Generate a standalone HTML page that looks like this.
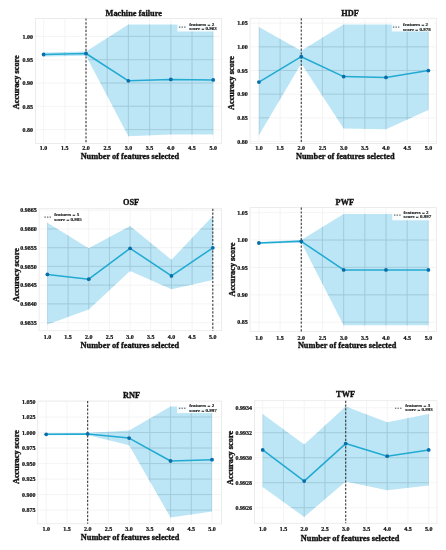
<!DOCTYPE html><html><head><meta charset="utf-8"><style>html,body{margin:0;padding:0;background:#fff;width:446px;height:550px;overflow:hidden}svg{display:block;filter:blur(0.3px)}text{font-family:"Liberation Serif","Times New Roman",serif;font-weight:bold}</style></head><body>
<svg width="446" height="550" viewBox="0 0 446 550">
<rect width="446" height="550" fill="#fff"/>
<g>
<rect x="35.40" y="18.40" width="186.00" height="125.10" fill="#fff" stroke="#e8e8e8" stroke-width="0.8"/>
<line x1="43.60" y1="18.40" x2="43.60" y2="143.50" stroke="#f1f1f1" stroke-width="0.8"/>
<line x1="64.80" y1="18.40" x2="64.80" y2="143.50" stroke="#f1f1f1" stroke-width="0.8"/>
<line x1="86.00" y1="18.40" x2="86.00" y2="143.50" stroke="#f1f1f1" stroke-width="0.8"/>
<line x1="107.20" y1="18.40" x2="107.20" y2="143.50" stroke="#f1f1f1" stroke-width="0.8"/>
<line x1="128.40" y1="18.40" x2="128.40" y2="143.50" stroke="#f1f1f1" stroke-width="0.8"/>
<line x1="149.60" y1="18.40" x2="149.60" y2="143.50" stroke="#f1f1f1" stroke-width="0.8"/>
<line x1="170.80" y1="18.40" x2="170.80" y2="143.50" stroke="#f1f1f1" stroke-width="0.8"/>
<line x1="192.00" y1="18.40" x2="192.00" y2="143.50" stroke="#f1f1f1" stroke-width="0.8"/>
<line x1="213.20" y1="18.40" x2="213.20" y2="143.50" stroke="#f1f1f1" stroke-width="0.8"/>
<line x1="35.40" y1="129.60" x2="221.40" y2="129.60" stroke="#f1f1f1" stroke-width="0.8"/>
<line x1="35.40" y1="106.30" x2="221.40" y2="106.30" stroke="#f1f1f1" stroke-width="0.8"/>
<line x1="35.40" y1="83.00" x2="221.40" y2="83.00" stroke="#f1f1f1" stroke-width="0.8"/>
<line x1="35.40" y1="59.70" x2="221.40" y2="59.70" stroke="#f1f1f1" stroke-width="0.8"/>
<line x1="35.40" y1="36.40" x2="221.40" y2="36.40" stroke="#f1f1f1" stroke-width="0.8"/>
<polygon points="43.60,52.60 86.00,51.40 128.40,24.40 170.80,24.40 213.20,24.40 213.20,134.40 170.80,134.40 128.40,136.20 86.00,55.80 43.60,56.40" fill="rgb(32,172,222)" fill-opacity="0.3"/>
<clipPath id="c0"><polygon points="43.60,52.60 86.00,51.40 128.40,24.40 170.80,24.40 213.20,24.40 213.20,134.40 170.80,134.40 128.40,136.20 86.00,55.80 43.60,56.40"/></clipPath><g clip-path="url(#c0)">
<line x1="43.60" y1="18.40" x2="43.60" y2="143.50" stroke="rgb(158,200,216)" stroke-width="0.8"/>
<line x1="64.80" y1="18.40" x2="64.80" y2="143.50" stroke="rgb(158,200,216)" stroke-width="0.8"/>
<line x1="86.00" y1="18.40" x2="86.00" y2="143.50" stroke="rgb(158,200,216)" stroke-width="0.8"/>
<line x1="107.20" y1="18.40" x2="107.20" y2="143.50" stroke="rgb(158,200,216)" stroke-width="0.8"/>
<line x1="128.40" y1="18.40" x2="128.40" y2="143.50" stroke="rgb(158,200,216)" stroke-width="0.8"/>
<line x1="149.60" y1="18.40" x2="149.60" y2="143.50" stroke="rgb(158,200,216)" stroke-width="0.8"/>
<line x1="170.80" y1="18.40" x2="170.80" y2="143.50" stroke="rgb(158,200,216)" stroke-width="0.8"/>
<line x1="192.00" y1="18.40" x2="192.00" y2="143.50" stroke="rgb(158,200,216)" stroke-width="0.8"/>
<line x1="213.20" y1="18.40" x2="213.20" y2="143.50" stroke="rgb(158,200,216)" stroke-width="0.8"/>
<line x1="35.40" y1="129.60" x2="221.40" y2="129.60" stroke="rgb(158,200,216)" stroke-width="0.8"/>
<line x1="35.40" y1="106.30" x2="221.40" y2="106.30" stroke="rgb(158,200,216)" stroke-width="0.8"/>
<line x1="35.40" y1="83.00" x2="221.40" y2="83.00" stroke="rgb(158,200,216)" stroke-width="0.8"/>
<line x1="35.40" y1="59.70" x2="221.40" y2="59.70" stroke="rgb(158,200,216)" stroke-width="0.8"/>
<line x1="35.40" y1="36.40" x2="221.40" y2="36.40" stroke="rgb(158,200,216)" stroke-width="0.8"/>
</g>
<line x1="86.00" y1="18.40" x2="86.00" y2="143.50" stroke="#3a3a3a" stroke-width="1.1" stroke-dasharray="2.2 1.6"/>
<polyline points="43.60,54.50 86.00,53.50 128.40,80.80 170.80,79.40 213.20,79.90" fill="none" stroke="rgb(34,170,210)" stroke-width="1.55" stroke-linejoin="round"/>
<circle cx="43.60" cy="54.50" r="1.9" fill="rgb(8,110,170)"/>
<circle cx="86.00" cy="53.50" r="1.9" fill="rgb(8,110,170)"/>
<circle cx="128.40" cy="80.80" r="1.9" fill="rgb(8,110,170)"/>
<circle cx="170.80" cy="79.40" r="1.9" fill="rgb(8,110,170)"/>
<circle cx="213.20" cy="79.90" r="1.9" fill="rgb(8,110,170)"/>
<rect x="177.40" y="20.00" width="42.10" height="11.50" fill="#fff" fill-opacity="0.9"/>
<line x1="178.90" y1="27.10" x2="185.90" y2="27.10" stroke="#333" stroke-width="0.9" stroke-dasharray="1.4 1.2"/>
<text stroke="#111" x="189.20" y="25.50" font-size="5.0" stroke-width="0.14" fill="#161616">features = 2</text>
<text stroke="#111" x="189.20" y="30.40" font-size="5.0" stroke-width="0.14" fill="#161616">score = 0.963</text>
<text stroke="#111" stroke-width="0.22" fill="#111" x="33.10" y="131.83" font-size="6.0" text-anchor="end">0.80</text>
<text stroke="#111" stroke-width="0.22" fill="#111" x="33.10" y="108.53" font-size="6.0" text-anchor="end">0.85</text>
<text stroke="#111" stroke-width="0.22" fill="#111" x="33.10" y="85.23" font-size="6.0" text-anchor="end">0.90</text>
<text stroke="#111" stroke-width="0.22" fill="#111" x="33.10" y="61.93" font-size="6.0" text-anchor="end">0.95</text>
<text stroke="#111" stroke-width="0.22" fill="#111" x="33.10" y="38.63" font-size="6.0" text-anchor="end">1.00</text>
<text stroke="#111" stroke-width="0.22" fill="#111" x="43.60" y="150.23" font-size="6.0" text-anchor="middle">1.0</text>
<text stroke="#111" stroke-width="0.22" fill="#111" x="64.80" y="150.23" font-size="6.0" text-anchor="middle">1.5</text>
<text stroke="#111" stroke-width="0.22" fill="#111" x="86.00" y="150.23" font-size="6.0" text-anchor="middle">2.0</text>
<text stroke="#111" stroke-width="0.22" fill="#111" x="107.20" y="150.23" font-size="6.0" text-anchor="middle">2.5</text>
<text stroke="#111" stroke-width="0.22" fill="#111" x="128.40" y="150.23" font-size="6.0" text-anchor="middle">3.0</text>
<text stroke="#111" stroke-width="0.22" fill="#111" x="149.60" y="150.23" font-size="6.0" text-anchor="middle">3.5</text>
<text stroke="#111" stroke-width="0.22" fill="#111" x="170.80" y="150.23" font-size="6.0" text-anchor="middle">4.0</text>
<text stroke="#111" stroke-width="0.22" fill="#111" x="192.00" y="150.23" font-size="6.0" text-anchor="middle">4.5</text>
<text stroke="#111" stroke-width="0.22" fill="#111" x="213.20" y="150.23" font-size="6.0" text-anchor="middle">5.0</text>
<text stroke="#111" fill="#111" x="133.75" y="16.10" font-size="8.3" stroke-width="0.35" text-anchor="middle">Machine failure</text>
<text stroke="#111" fill="#111" x="129.90" y="159.00" font-size="8.3" stroke-width="0.35" text-anchor="middle">Number of features selected</text>
<text stroke="#111" fill="#111" transform="translate(18.70,82.20) rotate(-90)" font-size="8.3" stroke-width="0.35" text-anchor="middle">Accuracy score</text>
</g>
<g>
<rect x="250.10" y="18.20" width="186.40" height="125.30" fill="#fff" stroke="#e8e8e8" stroke-width="0.8"/>
<line x1="258.90" y1="18.20" x2="258.90" y2="143.50" stroke="#f1f1f1" stroke-width="0.8"/>
<line x1="280.08" y1="18.20" x2="280.08" y2="143.50" stroke="#f1f1f1" stroke-width="0.8"/>
<line x1="301.27" y1="18.20" x2="301.27" y2="143.50" stroke="#f1f1f1" stroke-width="0.8"/>
<line x1="322.45" y1="18.20" x2="322.45" y2="143.50" stroke="#f1f1f1" stroke-width="0.8"/>
<line x1="343.64" y1="18.20" x2="343.64" y2="143.50" stroke="#f1f1f1" stroke-width="0.8"/>
<line x1="364.82" y1="18.20" x2="364.82" y2="143.50" stroke="#f1f1f1" stroke-width="0.8"/>
<line x1="386.01" y1="18.20" x2="386.01" y2="143.50" stroke="#f1f1f1" stroke-width="0.8"/>
<line x1="407.19" y1="18.20" x2="407.19" y2="143.50" stroke="#f1f1f1" stroke-width="0.8"/>
<line x1="428.38" y1="18.20" x2="428.38" y2="143.50" stroke="#f1f1f1" stroke-width="0.8"/>
<line x1="250.10" y1="141.50" x2="436.50" y2="141.50" stroke="#f1f1f1" stroke-width="0.8"/>
<line x1="250.10" y1="117.83" x2="436.50" y2="117.83" stroke="#f1f1f1" stroke-width="0.8"/>
<line x1="250.10" y1="94.15" x2="436.50" y2="94.15" stroke="#f1f1f1" stroke-width="0.8"/>
<line x1="250.10" y1="70.48" x2="436.50" y2="70.48" stroke="#f1f1f1" stroke-width="0.8"/>
<line x1="250.10" y1="46.80" x2="436.50" y2="46.80" stroke="#f1f1f1" stroke-width="0.8"/>
<line x1="250.10" y1="23.12" x2="436.50" y2="23.12" stroke="#f1f1f1" stroke-width="0.8"/>
<polygon points="258.90,27.10 301.27,50.70 343.64,24.40 386.01,24.40 428.38,24.40 428.38,110.10 386.01,129.20 343.64,128.40 301.27,63.60 258.90,135.20" fill="rgb(32,172,222)" fill-opacity="0.3"/>
<clipPath id="c1"><polygon points="258.90,27.10 301.27,50.70 343.64,24.40 386.01,24.40 428.38,24.40 428.38,110.10 386.01,129.20 343.64,128.40 301.27,63.60 258.90,135.20"/></clipPath><g clip-path="url(#c1)">
<line x1="258.90" y1="18.20" x2="258.90" y2="143.50" stroke="rgb(158,200,216)" stroke-width="0.8"/>
<line x1="280.08" y1="18.20" x2="280.08" y2="143.50" stroke="rgb(158,200,216)" stroke-width="0.8"/>
<line x1="301.27" y1="18.20" x2="301.27" y2="143.50" stroke="rgb(158,200,216)" stroke-width="0.8"/>
<line x1="322.45" y1="18.20" x2="322.45" y2="143.50" stroke="rgb(158,200,216)" stroke-width="0.8"/>
<line x1="343.64" y1="18.20" x2="343.64" y2="143.50" stroke="rgb(158,200,216)" stroke-width="0.8"/>
<line x1="364.82" y1="18.20" x2="364.82" y2="143.50" stroke="rgb(158,200,216)" stroke-width="0.8"/>
<line x1="386.01" y1="18.20" x2="386.01" y2="143.50" stroke="rgb(158,200,216)" stroke-width="0.8"/>
<line x1="407.19" y1="18.20" x2="407.19" y2="143.50" stroke="rgb(158,200,216)" stroke-width="0.8"/>
<line x1="428.38" y1="18.20" x2="428.38" y2="143.50" stroke="rgb(158,200,216)" stroke-width="0.8"/>
<line x1="250.10" y1="141.50" x2="436.50" y2="141.50" stroke="rgb(158,200,216)" stroke-width="0.8"/>
<line x1="250.10" y1="117.83" x2="436.50" y2="117.83" stroke="rgb(158,200,216)" stroke-width="0.8"/>
<line x1="250.10" y1="94.15" x2="436.50" y2="94.15" stroke="rgb(158,200,216)" stroke-width="0.8"/>
<line x1="250.10" y1="70.48" x2="436.50" y2="70.48" stroke="rgb(158,200,216)" stroke-width="0.8"/>
<line x1="250.10" y1="46.80" x2="436.50" y2="46.80" stroke="rgb(158,200,216)" stroke-width="0.8"/>
<line x1="250.10" y1="23.12" x2="436.50" y2="23.12" stroke="rgb(158,200,216)" stroke-width="0.8"/>
</g>
<line x1="301.27" y1="18.20" x2="301.27" y2="143.50" stroke="#3a3a3a" stroke-width="1.1" stroke-dasharray="2.2 1.6"/>
<polyline points="258.90,82.10 301.27,56.70 343.64,76.60 386.01,77.40 428.38,70.60" fill="none" stroke="rgb(34,170,210)" stroke-width="1.55" stroke-linejoin="round"/>
<circle cx="258.90" cy="82.10" r="1.9" fill="rgb(8,110,170)"/>
<circle cx="301.27" cy="56.70" r="1.9" fill="rgb(8,110,170)"/>
<circle cx="343.64" cy="76.60" r="1.9" fill="rgb(8,110,170)"/>
<circle cx="386.01" cy="77.40" r="1.9" fill="rgb(8,110,170)"/>
<circle cx="428.38" cy="70.60" r="1.9" fill="rgb(8,110,170)"/>
<rect x="391.80" y="20.50" width="42.20" height="11.00" fill="#fff" fill-opacity="0.9"/>
<line x1="392.90" y1="27.10" x2="399.30" y2="27.10" stroke="#333" stroke-width="0.9" stroke-dasharray="1.4 1.2"/>
<text stroke="#111" x="403.10" y="25.50" font-size="5.0" stroke-width="0.14" fill="#161616">features = 2</text>
<text stroke="#111" x="403.10" y="30.60" font-size="5.0" stroke-width="0.14" fill="#161616">score = 0.978</text>
<text stroke="#111" stroke-width="0.22" fill="#111" x="247.80" y="143.73" font-size="6.0" text-anchor="end">0.80</text>
<text stroke="#111" stroke-width="0.22" fill="#111" x="247.80" y="120.05" font-size="6.0" text-anchor="end">0.85</text>
<text stroke="#111" stroke-width="0.22" fill="#111" x="247.80" y="96.38" font-size="6.0" text-anchor="end">0.90</text>
<text stroke="#111" stroke-width="0.22" fill="#111" x="247.80" y="72.70" font-size="6.0" text-anchor="end">0.95</text>
<text stroke="#111" stroke-width="0.22" fill="#111" x="247.80" y="49.03" font-size="6.0" text-anchor="end">1.00</text>
<text stroke="#111" stroke-width="0.22" fill="#111" x="247.80" y="25.35" font-size="6.0" text-anchor="end">1.05</text>
<text stroke="#111" stroke-width="0.22" fill="#111" x="258.90" y="150.23" font-size="6.0" text-anchor="middle">1.0</text>
<text stroke="#111" stroke-width="0.22" fill="#111" x="280.08" y="150.23" font-size="6.0" text-anchor="middle">1.5</text>
<text stroke="#111" stroke-width="0.22" fill="#111" x="301.27" y="150.23" font-size="6.0" text-anchor="middle">2.0</text>
<text stroke="#111" stroke-width="0.22" fill="#111" x="322.45" y="150.23" font-size="6.0" text-anchor="middle">2.5</text>
<text stroke="#111" stroke-width="0.22" fill="#111" x="343.64" y="150.23" font-size="6.0" text-anchor="middle">3.0</text>
<text stroke="#111" stroke-width="0.22" fill="#111" x="364.82" y="150.23" font-size="6.0" text-anchor="middle">3.5</text>
<text stroke="#111" stroke-width="0.22" fill="#111" x="386.01" y="150.23" font-size="6.0" text-anchor="middle">4.0</text>
<text stroke="#111" stroke-width="0.22" fill="#111" x="407.19" y="150.23" font-size="6.0" text-anchor="middle">4.5</text>
<text stroke="#111" stroke-width="0.22" fill="#111" x="428.38" y="150.23" font-size="6.0" text-anchor="middle">5.0</text>
<text stroke="#111" fill="#111" x="349.95" y="15.60" font-size="8.3" stroke-width="0.35" text-anchor="middle">HDF</text>
<text stroke="#111" fill="#111" x="345.30" y="159.20" font-size="8.3" stroke-width="0.35" text-anchor="middle">Number of features selected</text>
<text stroke="#111" fill="#111" transform="translate(234.10,83.00) rotate(-90)" font-size="8.3" stroke-width="0.35" text-anchor="middle">Accuracy score</text>
</g>
<g>
<rect x="39.10" y="208.70" width="182.50" height="122.00" fill="#fff" stroke="#e8e8e8" stroke-width="0.8"/>
<line x1="47.40" y1="208.70" x2="47.40" y2="330.70" stroke="#f1f1f1" stroke-width="0.8"/>
<line x1="68.08" y1="208.70" x2="68.08" y2="330.70" stroke="#f1f1f1" stroke-width="0.8"/>
<line x1="88.75" y1="208.70" x2="88.75" y2="330.70" stroke="#f1f1f1" stroke-width="0.8"/>
<line x1="109.43" y1="208.70" x2="109.43" y2="330.70" stroke="#f1f1f1" stroke-width="0.8"/>
<line x1="130.10" y1="208.70" x2="130.10" y2="330.70" stroke="#f1f1f1" stroke-width="0.8"/>
<line x1="150.78" y1="208.70" x2="150.78" y2="330.70" stroke="#f1f1f1" stroke-width="0.8"/>
<line x1="171.45" y1="208.70" x2="171.45" y2="330.70" stroke="#f1f1f1" stroke-width="0.8"/>
<line x1="192.12" y1="208.70" x2="192.12" y2="330.70" stroke="#f1f1f1" stroke-width="0.8"/>
<line x1="212.80" y1="208.70" x2="212.80" y2="330.70" stroke="#f1f1f1" stroke-width="0.8"/>
<line x1="39.10" y1="322.60" x2="221.60" y2="322.60" stroke="#f1f1f1" stroke-width="0.8"/>
<line x1="39.10" y1="303.87" x2="221.60" y2="303.87" stroke="#f1f1f1" stroke-width="0.8"/>
<line x1="39.10" y1="285.13" x2="221.60" y2="285.13" stroke="#f1f1f1" stroke-width="0.8"/>
<line x1="39.10" y1="266.40" x2="221.60" y2="266.40" stroke="#f1f1f1" stroke-width="0.8"/>
<line x1="39.10" y1="247.67" x2="221.60" y2="247.67" stroke="#f1f1f1" stroke-width="0.8"/>
<line x1="39.10" y1="228.93" x2="221.60" y2="228.93" stroke="#f1f1f1" stroke-width="0.8"/>
<line x1="39.10" y1="210.20" x2="221.60" y2="210.20" stroke="#f1f1f1" stroke-width="0.8"/>
<polygon points="47.40,222.70 88.75,248.30 130.10,225.90 171.45,259.80 212.80,215.90 212.80,280.00 171.45,289.30 130.10,270.90 88.75,309.40 47.40,324.50" fill="rgb(32,172,222)" fill-opacity="0.3"/>
<clipPath id="c2"><polygon points="47.40,222.70 88.75,248.30 130.10,225.90 171.45,259.80 212.80,215.90 212.80,280.00 171.45,289.30 130.10,270.90 88.75,309.40 47.40,324.50"/></clipPath><g clip-path="url(#c2)">
<line x1="47.40" y1="208.70" x2="47.40" y2="330.70" stroke="rgb(158,200,216)" stroke-width="0.8"/>
<line x1="68.08" y1="208.70" x2="68.08" y2="330.70" stroke="rgb(158,200,216)" stroke-width="0.8"/>
<line x1="88.75" y1="208.70" x2="88.75" y2="330.70" stroke="rgb(158,200,216)" stroke-width="0.8"/>
<line x1="109.43" y1="208.70" x2="109.43" y2="330.70" stroke="rgb(158,200,216)" stroke-width="0.8"/>
<line x1="130.10" y1="208.70" x2="130.10" y2="330.70" stroke="rgb(158,200,216)" stroke-width="0.8"/>
<line x1="150.78" y1="208.70" x2="150.78" y2="330.70" stroke="rgb(158,200,216)" stroke-width="0.8"/>
<line x1="171.45" y1="208.70" x2="171.45" y2="330.70" stroke="rgb(158,200,216)" stroke-width="0.8"/>
<line x1="192.12" y1="208.70" x2="192.12" y2="330.70" stroke="rgb(158,200,216)" stroke-width="0.8"/>
<line x1="212.80" y1="208.70" x2="212.80" y2="330.70" stroke="rgb(158,200,216)" stroke-width="0.8"/>
<line x1="39.10" y1="322.60" x2="221.60" y2="322.60" stroke="rgb(158,200,216)" stroke-width="0.8"/>
<line x1="39.10" y1="303.87" x2="221.60" y2="303.87" stroke="rgb(158,200,216)" stroke-width="0.8"/>
<line x1="39.10" y1="285.13" x2="221.60" y2="285.13" stroke="rgb(158,200,216)" stroke-width="0.8"/>
<line x1="39.10" y1="266.40" x2="221.60" y2="266.40" stroke="rgb(158,200,216)" stroke-width="0.8"/>
<line x1="39.10" y1="247.67" x2="221.60" y2="247.67" stroke="rgb(158,200,216)" stroke-width="0.8"/>
<line x1="39.10" y1="228.93" x2="221.60" y2="228.93" stroke="rgb(158,200,216)" stroke-width="0.8"/>
<line x1="39.10" y1="210.20" x2="221.60" y2="210.20" stroke="rgb(158,200,216)" stroke-width="0.8"/>
</g>
<line x1="212.80" y1="208.70" x2="212.80" y2="330.70" stroke="#3a3a3a" stroke-width="1.1" stroke-dasharray="2.2 1.6"/>
<polyline points="47.40,274.40 88.75,279.20 130.10,248.30 171.45,275.90 212.80,247.80" fill="none" stroke="rgb(34,170,210)" stroke-width="1.55" stroke-linejoin="round"/>
<circle cx="47.40" cy="274.40" r="1.9" fill="rgb(8,110,170)"/>
<circle cx="88.75" cy="279.20" r="1.9" fill="rgb(8,110,170)"/>
<circle cx="130.10" cy="248.30" r="1.9" fill="rgb(8,110,170)"/>
<circle cx="171.45" cy="275.90" r="1.9" fill="rgb(8,110,170)"/>
<circle cx="212.80" cy="247.80" r="1.9" fill="rgb(8,110,170)"/>
<rect x="41.00" y="210.50" width="43.50" height="11.50" fill="#fff" fill-opacity="0.9"/>
<line x1="44.40" y1="217.10" x2="51.10" y2="217.10" stroke="#333" stroke-width="0.9" stroke-dasharray="1.4 1.2"/>
<text stroke="#111" x="54.20" y="215.50" font-size="5.0" stroke-width="0.14" fill="#161616">features = 5</text>
<text stroke="#111" x="54.20" y="220.60" font-size="5.0" stroke-width="0.14" fill="#161616">score = 0.985</text>
<text stroke="#111" stroke-width="0.22" fill="#111" x="36.80" y="324.83" font-size="6.0" text-anchor="end">0.9835</text>
<text stroke="#111" stroke-width="0.22" fill="#111" x="36.80" y="306.09" font-size="6.0" text-anchor="end">0.9840</text>
<text stroke="#111" stroke-width="0.22" fill="#111" x="36.80" y="287.36" font-size="6.0" text-anchor="end">0.9845</text>
<text stroke="#111" stroke-width="0.22" fill="#111" x="36.80" y="268.63" font-size="6.0" text-anchor="end">0.9850</text>
<text stroke="#111" stroke-width="0.22" fill="#111" x="36.80" y="249.89" font-size="6.0" text-anchor="end">0.9855</text>
<text stroke="#111" stroke-width="0.22" fill="#111" x="36.80" y="231.16" font-size="6.0" text-anchor="end">0.9860</text>
<text stroke="#111" stroke-width="0.22" fill="#111" x="36.80" y="212.43" font-size="6.0" text-anchor="end">0.9865</text>
<text stroke="#111" stroke-width="0.22" fill="#111" x="47.40" y="338.63" font-size="6.0" text-anchor="middle">1.0</text>
<text stroke="#111" stroke-width="0.22" fill="#111" x="68.08" y="338.63" font-size="6.0" text-anchor="middle">1.5</text>
<text stroke="#111" stroke-width="0.22" fill="#111" x="88.75" y="338.63" font-size="6.0" text-anchor="middle">2.0</text>
<text stroke="#111" stroke-width="0.22" fill="#111" x="109.43" y="338.63" font-size="6.0" text-anchor="middle">2.5</text>
<text stroke="#111" stroke-width="0.22" fill="#111" x="130.10" y="338.63" font-size="6.0" text-anchor="middle">3.0</text>
<text stroke="#111" stroke-width="0.22" fill="#111" x="150.78" y="338.63" font-size="6.0" text-anchor="middle">3.5</text>
<text stroke="#111" stroke-width="0.22" fill="#111" x="171.45" y="338.63" font-size="6.0" text-anchor="middle">4.0</text>
<text stroke="#111" stroke-width="0.22" fill="#111" x="192.12" y="338.63" font-size="6.0" text-anchor="middle">4.5</text>
<text stroke="#111" stroke-width="0.22" fill="#111" x="212.80" y="338.63" font-size="6.0" text-anchor="middle">5.0</text>
<text stroke="#111" fill="#111" x="131.05" y="204.60" font-size="8.3" stroke-width="0.35" text-anchor="middle">OSF</text>
<text stroke="#111" fill="#111" x="129.85" y="347.70" font-size="8.3" stroke-width="0.35" text-anchor="middle">Number of features selected</text>
<text stroke="#111" fill="#111" transform="translate(18.80,275.10) rotate(-90)" font-size="8.3" stroke-width="0.35" text-anchor="middle">Accuracy score</text>
</g>
<g>
<rect x="250.10" y="207.60" width="186.40" height="123.90" fill="#fff" stroke="#e8e8e8" stroke-width="0.8"/>
<line x1="258.90" y1="207.60" x2="258.90" y2="331.50" stroke="#f1f1f1" stroke-width="0.8"/>
<line x1="280.08" y1="207.60" x2="280.08" y2="331.50" stroke="#f1f1f1" stroke-width="0.8"/>
<line x1="301.27" y1="207.60" x2="301.27" y2="331.50" stroke="#f1f1f1" stroke-width="0.8"/>
<line x1="322.45" y1="207.60" x2="322.45" y2="331.50" stroke="#f1f1f1" stroke-width="0.8"/>
<line x1="343.64" y1="207.60" x2="343.64" y2="331.50" stroke="#f1f1f1" stroke-width="0.8"/>
<line x1="364.82" y1="207.60" x2="364.82" y2="331.50" stroke="#f1f1f1" stroke-width="0.8"/>
<line x1="386.01" y1="207.60" x2="386.01" y2="331.50" stroke="#f1f1f1" stroke-width="0.8"/>
<line x1="407.19" y1="207.60" x2="407.19" y2="331.50" stroke="#f1f1f1" stroke-width="0.8"/>
<line x1="428.38" y1="207.60" x2="428.38" y2="331.50" stroke="#f1f1f1" stroke-width="0.8"/>
<line x1="250.10" y1="322.20" x2="436.50" y2="322.20" stroke="#f1f1f1" stroke-width="0.8"/>
<line x1="250.10" y1="294.80" x2="436.50" y2="294.80" stroke="#f1f1f1" stroke-width="0.8"/>
<line x1="250.10" y1="267.40" x2="436.50" y2="267.40" stroke="#f1f1f1" stroke-width="0.8"/>
<line x1="250.10" y1="240.00" x2="436.50" y2="240.00" stroke="#f1f1f1" stroke-width="0.8"/>
<line x1="250.10" y1="212.60" x2="436.50" y2="212.60" stroke="#f1f1f1" stroke-width="0.8"/>
<polygon points="258.90,242.00 301.27,240.00 343.64,213.90 386.01,213.90 428.38,213.90 428.38,325.20 386.01,325.20 343.64,325.20 301.27,242.60 258.90,244.00" fill="rgb(32,172,222)" fill-opacity="0.3"/>
<clipPath id="c3"><polygon points="258.90,242.00 301.27,240.00 343.64,213.90 386.01,213.90 428.38,213.90 428.38,325.20 386.01,325.20 343.64,325.20 301.27,242.60 258.90,244.00"/></clipPath><g clip-path="url(#c3)">
<line x1="258.90" y1="207.60" x2="258.90" y2="331.50" stroke="rgb(158,200,216)" stroke-width="0.8"/>
<line x1="280.08" y1="207.60" x2="280.08" y2="331.50" stroke="rgb(158,200,216)" stroke-width="0.8"/>
<line x1="301.27" y1="207.60" x2="301.27" y2="331.50" stroke="rgb(158,200,216)" stroke-width="0.8"/>
<line x1="322.45" y1="207.60" x2="322.45" y2="331.50" stroke="rgb(158,200,216)" stroke-width="0.8"/>
<line x1="343.64" y1="207.60" x2="343.64" y2="331.50" stroke="rgb(158,200,216)" stroke-width="0.8"/>
<line x1="364.82" y1="207.60" x2="364.82" y2="331.50" stroke="rgb(158,200,216)" stroke-width="0.8"/>
<line x1="386.01" y1="207.60" x2="386.01" y2="331.50" stroke="rgb(158,200,216)" stroke-width="0.8"/>
<line x1="407.19" y1="207.60" x2="407.19" y2="331.50" stroke="rgb(158,200,216)" stroke-width="0.8"/>
<line x1="428.38" y1="207.60" x2="428.38" y2="331.50" stroke="rgb(158,200,216)" stroke-width="0.8"/>
<line x1="250.10" y1="322.20" x2="436.50" y2="322.20" stroke="rgb(158,200,216)" stroke-width="0.8"/>
<line x1="250.10" y1="294.80" x2="436.50" y2="294.80" stroke="rgb(158,200,216)" stroke-width="0.8"/>
<line x1="250.10" y1="267.40" x2="436.50" y2="267.40" stroke="rgb(158,200,216)" stroke-width="0.8"/>
<line x1="250.10" y1="240.00" x2="436.50" y2="240.00" stroke="rgb(158,200,216)" stroke-width="0.8"/>
<line x1="250.10" y1="212.60" x2="436.50" y2="212.60" stroke="rgb(158,200,216)" stroke-width="0.8"/>
</g>
<line x1="301.27" y1="207.60" x2="301.27" y2="331.50" stroke="#3a3a3a" stroke-width="1.1" stroke-dasharray="2.2 1.6"/>
<polyline points="258.90,243.00 301.27,241.30 343.64,269.90 386.01,269.90 428.38,269.90" fill="none" stroke="rgb(34,170,210)" stroke-width="1.55" stroke-linejoin="round"/>
<circle cx="258.90" cy="243.00" r="1.9" fill="rgb(8,110,170)"/>
<circle cx="301.27" cy="241.30" r="1.9" fill="rgb(8,110,170)"/>
<circle cx="343.64" cy="269.90" r="1.9" fill="rgb(8,110,170)"/>
<circle cx="386.01" cy="269.90" r="1.9" fill="rgb(8,110,170)"/>
<circle cx="428.38" cy="269.90" r="1.9" fill="rgb(8,110,170)"/>
<rect x="392.20" y="209.20" width="41.80" height="11.10" fill="#fff" fill-opacity="0.9"/>
<line x1="394.00" y1="215.10" x2="401.20" y2="215.10" stroke="#333" stroke-width="0.9" stroke-dasharray="1.4 1.2"/>
<text stroke="#111" x="403.60" y="213.60" font-size="5.0" stroke-width="0.14" fill="#161616">features = 2</text>
<text stroke="#111" x="403.60" y="218.20" font-size="5.0" stroke-width="0.14" fill="#161616">score = 0.997</text>
<text stroke="#111" stroke-width="0.22" fill="#111" x="247.80" y="324.43" font-size="6.0" text-anchor="end">0.85</text>
<text stroke="#111" stroke-width="0.22" fill="#111" x="247.80" y="297.03" font-size="6.0" text-anchor="end">0.90</text>
<text stroke="#111" stroke-width="0.22" fill="#111" x="247.80" y="269.63" font-size="6.0" text-anchor="end">0.95</text>
<text stroke="#111" stroke-width="0.22" fill="#111" x="247.80" y="242.23" font-size="6.0" text-anchor="end">1.00</text>
<text stroke="#111" stroke-width="0.22" fill="#111" x="247.80" y="214.83" font-size="6.0" text-anchor="end">1.05</text>
<text stroke="#111" stroke-width="0.22" fill="#111" x="258.90" y="340.23" font-size="6.0" text-anchor="middle">1.0</text>
<text stroke="#111" stroke-width="0.22" fill="#111" x="280.08" y="340.23" font-size="6.0" text-anchor="middle">1.5</text>
<text stroke="#111" stroke-width="0.22" fill="#111" x="301.27" y="340.23" font-size="6.0" text-anchor="middle">2.0</text>
<text stroke="#111" stroke-width="0.22" fill="#111" x="322.45" y="340.23" font-size="6.0" text-anchor="middle">2.5</text>
<text stroke="#111" stroke-width="0.22" fill="#111" x="343.64" y="340.23" font-size="6.0" text-anchor="middle">3.0</text>
<text stroke="#111" stroke-width="0.22" fill="#111" x="364.82" y="340.23" font-size="6.0" text-anchor="middle">3.5</text>
<text stroke="#111" stroke-width="0.22" fill="#111" x="386.01" y="340.23" font-size="6.0" text-anchor="middle">4.0</text>
<text stroke="#111" stroke-width="0.22" fill="#111" x="407.19" y="340.23" font-size="6.0" text-anchor="middle">4.5</text>
<text stroke="#111" stroke-width="0.22" fill="#111" x="428.38" y="340.23" font-size="6.0" text-anchor="middle">5.0</text>
<text stroke="#111" fill="#111" x="344.80" y="204.60" font-size="8.3" stroke-width="0.35" text-anchor="middle">PWF</text>
<text stroke="#111" fill="#111" x="347.15" y="348.20" font-size="8.3" stroke-width="0.35" text-anchor="middle">Number of features selected</text>
<text stroke="#111" fill="#111" transform="translate(235.00,269.60) rotate(-90)" font-size="8.3" stroke-width="0.35" text-anchor="middle">Accuracy score</text>
</g>
<g>
<rect x="37.70" y="401.00" width="183.80" height="122.80" fill="#fff" stroke="#e8e8e8" stroke-width="0.8"/>
<line x1="46.20" y1="401.00" x2="46.20" y2="523.80" stroke="#f1f1f1" stroke-width="0.8"/>
<line x1="66.93" y1="401.00" x2="66.93" y2="523.80" stroke="#f1f1f1" stroke-width="0.8"/>
<line x1="87.65" y1="401.00" x2="87.65" y2="523.80" stroke="#f1f1f1" stroke-width="0.8"/>
<line x1="108.38" y1="401.00" x2="108.38" y2="523.80" stroke="#f1f1f1" stroke-width="0.8"/>
<line x1="129.10" y1="401.00" x2="129.10" y2="523.80" stroke="#f1f1f1" stroke-width="0.8"/>
<line x1="149.82" y1="401.00" x2="149.82" y2="523.80" stroke="#f1f1f1" stroke-width="0.8"/>
<line x1="170.55" y1="401.00" x2="170.55" y2="523.80" stroke="#f1f1f1" stroke-width="0.8"/>
<line x1="191.28" y1="401.00" x2="191.28" y2="523.80" stroke="#f1f1f1" stroke-width="0.8"/>
<line x1="212.00" y1="401.00" x2="212.00" y2="523.80" stroke="#f1f1f1" stroke-width="0.8"/>
<line x1="37.70" y1="510.10" x2="221.50" y2="510.10" stroke="#f1f1f1" stroke-width="0.8"/>
<line x1="37.70" y1="494.59" x2="221.50" y2="494.59" stroke="#f1f1f1" stroke-width="0.8"/>
<line x1="37.70" y1="479.07" x2="221.50" y2="479.07" stroke="#f1f1f1" stroke-width="0.8"/>
<line x1="37.70" y1="463.56" x2="221.50" y2="463.56" stroke="#f1f1f1" stroke-width="0.8"/>
<line x1="37.70" y1="448.04" x2="221.50" y2="448.04" stroke="#f1f1f1" stroke-width="0.8"/>
<line x1="37.70" y1="432.53" x2="221.50" y2="432.53" stroke="#f1f1f1" stroke-width="0.8"/>
<line x1="37.70" y1="417.01" x2="221.50" y2="417.01" stroke="#f1f1f1" stroke-width="0.8"/>
<line x1="37.70" y1="401.50" x2="221.50" y2="401.50" stroke="#f1f1f1" stroke-width="0.8"/>
<polygon points="46.20,433.30 87.65,432.90 129.10,430.50 170.55,406.40 212.00,406.40 212.00,511.50 170.55,517.50 129.10,445.30 87.65,434.90 46.20,435.30" fill="rgb(32,172,222)" fill-opacity="0.3"/>
<clipPath id="c4"><polygon points="46.20,433.30 87.65,432.90 129.10,430.50 170.55,406.40 212.00,406.40 212.00,511.50 170.55,517.50 129.10,445.30 87.65,434.90 46.20,435.30"/></clipPath><g clip-path="url(#c4)">
<line x1="46.20" y1="401.00" x2="46.20" y2="523.80" stroke="rgb(158,200,216)" stroke-width="0.8"/>
<line x1="66.93" y1="401.00" x2="66.93" y2="523.80" stroke="rgb(158,200,216)" stroke-width="0.8"/>
<line x1="87.65" y1="401.00" x2="87.65" y2="523.80" stroke="rgb(158,200,216)" stroke-width="0.8"/>
<line x1="108.38" y1="401.00" x2="108.38" y2="523.80" stroke="rgb(158,200,216)" stroke-width="0.8"/>
<line x1="129.10" y1="401.00" x2="129.10" y2="523.80" stroke="rgb(158,200,216)" stroke-width="0.8"/>
<line x1="149.82" y1="401.00" x2="149.82" y2="523.80" stroke="rgb(158,200,216)" stroke-width="0.8"/>
<line x1="170.55" y1="401.00" x2="170.55" y2="523.80" stroke="rgb(158,200,216)" stroke-width="0.8"/>
<line x1="191.28" y1="401.00" x2="191.28" y2="523.80" stroke="rgb(158,200,216)" stroke-width="0.8"/>
<line x1="212.00" y1="401.00" x2="212.00" y2="523.80" stroke="rgb(158,200,216)" stroke-width="0.8"/>
<line x1="37.70" y1="510.10" x2="221.50" y2="510.10" stroke="rgb(158,200,216)" stroke-width="0.8"/>
<line x1="37.70" y1="494.59" x2="221.50" y2="494.59" stroke="rgb(158,200,216)" stroke-width="0.8"/>
<line x1="37.70" y1="479.07" x2="221.50" y2="479.07" stroke="rgb(158,200,216)" stroke-width="0.8"/>
<line x1="37.70" y1="463.56" x2="221.50" y2="463.56" stroke="rgb(158,200,216)" stroke-width="0.8"/>
<line x1="37.70" y1="448.04" x2="221.50" y2="448.04" stroke="rgb(158,200,216)" stroke-width="0.8"/>
<line x1="37.70" y1="432.53" x2="221.50" y2="432.53" stroke="rgb(158,200,216)" stroke-width="0.8"/>
<line x1="37.70" y1="417.01" x2="221.50" y2="417.01" stroke="rgb(158,200,216)" stroke-width="0.8"/>
<line x1="37.70" y1="401.50" x2="221.50" y2="401.50" stroke="rgb(158,200,216)" stroke-width="0.8"/>
</g>
<line x1="87.65" y1="401.00" x2="87.65" y2="523.80" stroke="#3a3a3a" stroke-width="1.1" stroke-dasharray="2.2 1.6"/>
<polyline points="46.20,434.30 87.65,433.90 129.10,438.10 170.55,461.00 212.00,459.70" fill="none" stroke="rgb(34,170,210)" stroke-width="1.55" stroke-linejoin="round"/>
<circle cx="46.20" cy="434.30" r="1.9" fill="rgb(8,110,170)"/>
<circle cx="87.65" cy="433.90" r="1.9" fill="rgb(8,110,170)"/>
<circle cx="129.10" cy="438.10" r="1.9" fill="rgb(8,110,170)"/>
<circle cx="170.55" cy="461.00" r="1.9" fill="rgb(8,110,170)"/>
<circle cx="212.00" cy="459.70" r="1.9" fill="rgb(8,110,170)"/>
<rect x="177.10" y="402.50" width="42.40" height="10.60" fill="#fff" fill-opacity="0.9"/>
<line x1="178.90" y1="408.20" x2="186.20" y2="408.20" stroke="#333" stroke-width="0.9" stroke-dasharray="1.4 1.2"/>
<text stroke="#111" x="189.20" y="406.90" font-size="5.0" stroke-width="0.14" fill="#161616">features = 2</text>
<text stroke="#111" x="189.20" y="411.50" font-size="5.0" stroke-width="0.14" fill="#161616">score = 0.997</text>
<text stroke="#111" stroke-width="0.22" fill="#111" x="35.40" y="512.33" font-size="6.0" text-anchor="end">0.875</text>
<text stroke="#111" stroke-width="0.22" fill="#111" x="35.40" y="496.81" font-size="6.0" text-anchor="end">0.900</text>
<text stroke="#111" stroke-width="0.22" fill="#111" x="35.40" y="481.30" font-size="6.0" text-anchor="end">0.925</text>
<text stroke="#111" stroke-width="0.22" fill="#111" x="35.40" y="465.79" font-size="6.0" text-anchor="end">0.950</text>
<text stroke="#111" stroke-width="0.22" fill="#111" x="35.40" y="450.27" font-size="6.0" text-anchor="end">0.975</text>
<text stroke="#111" stroke-width="0.22" fill="#111" x="35.40" y="434.76" font-size="6.0" text-anchor="end">1.000</text>
<text stroke="#111" stroke-width="0.22" fill="#111" x="35.40" y="419.24" font-size="6.0" text-anchor="end">1.025</text>
<text stroke="#111" stroke-width="0.22" fill="#111" x="35.40" y="403.73" font-size="6.0" text-anchor="end">1.050</text>
<text stroke="#111" stroke-width="0.22" fill="#111" x="46.20" y="530.53" font-size="6.0" text-anchor="middle">1.0</text>
<text stroke="#111" stroke-width="0.22" fill="#111" x="66.93" y="530.53" font-size="6.0" text-anchor="middle">1.5</text>
<text stroke="#111" stroke-width="0.22" fill="#111" x="87.65" y="530.53" font-size="6.0" text-anchor="middle">2.0</text>
<text stroke="#111" stroke-width="0.22" fill="#111" x="108.38" y="530.53" font-size="6.0" text-anchor="middle">2.5</text>
<text stroke="#111" stroke-width="0.22" fill="#111" x="129.10" y="530.53" font-size="6.0" text-anchor="middle">3.0</text>
<text stroke="#111" stroke-width="0.22" fill="#111" x="149.82" y="530.53" font-size="6.0" text-anchor="middle">3.5</text>
<text stroke="#111" stroke-width="0.22" fill="#111" x="170.55" y="530.53" font-size="6.0" text-anchor="middle">4.0</text>
<text stroke="#111" stroke-width="0.22" fill="#111" x="191.28" y="530.53" font-size="6.0" text-anchor="middle">4.5</text>
<text stroke="#111" stroke-width="0.22" fill="#111" x="212.00" y="530.53" font-size="6.0" text-anchor="middle">5.0</text>
<text stroke="#111" fill="#111" x="131.45" y="397.60" font-size="8.3" stroke-width="0.35" text-anchor="middle">RNF</text>
<text stroke="#111" fill="#111" x="130.10" y="540.30" font-size="8.3" stroke-width="0.35" text-anchor="middle">Number of features selected</text>
<text stroke="#111" fill="#111" transform="translate(19.30,457.10) rotate(-90)" font-size="8.3" stroke-width="0.35" text-anchor="middle">Accuracy score</text>
</g>
<g>
<rect x="254.40" y="400.70" width="182.60" height="122.60" fill="#fff" stroke="#e8e8e8" stroke-width="0.8"/>
<line x1="262.70" y1="400.70" x2="262.70" y2="523.30" stroke="#f1f1f1" stroke-width="0.8"/>
<line x1="283.45" y1="400.70" x2="283.45" y2="523.30" stroke="#f1f1f1" stroke-width="0.8"/>
<line x1="304.20" y1="400.70" x2="304.20" y2="523.30" stroke="#f1f1f1" stroke-width="0.8"/>
<line x1="324.95" y1="400.70" x2="324.95" y2="523.30" stroke="#f1f1f1" stroke-width="0.8"/>
<line x1="345.70" y1="400.70" x2="345.70" y2="523.30" stroke="#f1f1f1" stroke-width="0.8"/>
<line x1="366.45" y1="400.70" x2="366.45" y2="523.30" stroke="#f1f1f1" stroke-width="0.8"/>
<line x1="387.20" y1="400.70" x2="387.20" y2="523.30" stroke="#f1f1f1" stroke-width="0.8"/>
<line x1="407.95" y1="400.70" x2="407.95" y2="523.30" stroke="#f1f1f1" stroke-width="0.8"/>
<line x1="428.70" y1="400.70" x2="428.70" y2="523.30" stroke="#f1f1f1" stroke-width="0.8"/>
<line x1="254.40" y1="507.70" x2="437.00" y2="507.70" stroke="#f1f1f1" stroke-width="0.8"/>
<line x1="254.40" y1="482.70" x2="437.00" y2="482.70" stroke="#f1f1f1" stroke-width="0.8"/>
<line x1="254.40" y1="457.70" x2="437.00" y2="457.70" stroke="#f1f1f1" stroke-width="0.8"/>
<line x1="254.40" y1="432.70" x2="437.00" y2="432.70" stroke="#f1f1f1" stroke-width="0.8"/>
<line x1="254.40" y1="407.70" x2="437.00" y2="407.70" stroke="#f1f1f1" stroke-width="0.8"/>
<polygon points="262.70,414.00 304.20,444.60 345.70,406.40 387.20,422.30 428.70,414.00 428.70,485.60 387.20,490.20 345.70,481.40 304.20,517.00 262.70,486.90" fill="rgb(32,172,222)" fill-opacity="0.3"/>
<clipPath id="c5"><polygon points="262.70,414.00 304.20,444.60 345.70,406.40 387.20,422.30 428.70,414.00 428.70,485.60 387.20,490.20 345.70,481.40 304.20,517.00 262.70,486.90"/></clipPath><g clip-path="url(#c5)">
<line x1="262.70" y1="400.70" x2="262.70" y2="523.30" stroke="rgb(158,200,216)" stroke-width="0.8"/>
<line x1="283.45" y1="400.70" x2="283.45" y2="523.30" stroke="rgb(158,200,216)" stroke-width="0.8"/>
<line x1="304.20" y1="400.70" x2="304.20" y2="523.30" stroke="rgb(158,200,216)" stroke-width="0.8"/>
<line x1="324.95" y1="400.70" x2="324.95" y2="523.30" stroke="rgb(158,200,216)" stroke-width="0.8"/>
<line x1="345.70" y1="400.70" x2="345.70" y2="523.30" stroke="rgb(158,200,216)" stroke-width="0.8"/>
<line x1="366.45" y1="400.70" x2="366.45" y2="523.30" stroke="rgb(158,200,216)" stroke-width="0.8"/>
<line x1="387.20" y1="400.70" x2="387.20" y2="523.30" stroke="rgb(158,200,216)" stroke-width="0.8"/>
<line x1="407.95" y1="400.70" x2="407.95" y2="523.30" stroke="rgb(158,200,216)" stroke-width="0.8"/>
<line x1="428.70" y1="400.70" x2="428.70" y2="523.30" stroke="rgb(158,200,216)" stroke-width="0.8"/>
<line x1="254.40" y1="507.70" x2="437.00" y2="507.70" stroke="rgb(158,200,216)" stroke-width="0.8"/>
<line x1="254.40" y1="482.70" x2="437.00" y2="482.70" stroke="rgb(158,200,216)" stroke-width="0.8"/>
<line x1="254.40" y1="457.70" x2="437.00" y2="457.70" stroke="rgb(158,200,216)" stroke-width="0.8"/>
<line x1="254.40" y1="432.70" x2="437.00" y2="432.70" stroke="rgb(158,200,216)" stroke-width="0.8"/>
<line x1="254.40" y1="407.70" x2="437.00" y2="407.70" stroke="rgb(158,200,216)" stroke-width="0.8"/>
</g>
<line x1="345.70" y1="400.70" x2="345.70" y2="523.30" stroke="#3a3a3a" stroke-width="1.1" stroke-dasharray="2.2 1.6"/>
<polyline points="262.70,449.90 304.20,481.10 345.70,443.60 387.20,456.20 428.70,449.90" fill="none" stroke="rgb(34,170,210)" stroke-width="1.55" stroke-linejoin="round"/>
<circle cx="262.70" cy="449.90" r="1.9" fill="rgb(8,110,170)"/>
<circle cx="304.20" cy="481.10" r="1.9" fill="rgb(8,110,170)"/>
<circle cx="345.70" cy="443.60" r="1.9" fill="rgb(8,110,170)"/>
<circle cx="387.20" cy="456.20" r="1.9" fill="rgb(8,110,170)"/>
<circle cx="428.70" cy="449.90" r="1.9" fill="rgb(8,110,170)"/>
<rect x="393.20" y="402.00" width="42.30" height="11.50" fill="#fff" fill-opacity="0.9"/>
<line x1="394.90" y1="408.20" x2="402.30" y2="408.20" stroke="#333" stroke-width="0.9" stroke-dasharray="1.4 1.2"/>
<text stroke="#111" x="405.20" y="406.90" font-size="5.0" stroke-width="0.14" fill="#161616">features = 3</text>
<text stroke="#111" x="405.20" y="411.30" font-size="5.0" stroke-width="0.14" fill="#161616">score = 0.993</text>
<text stroke="#111" stroke-width="0.22" fill="#111" x="252.10" y="509.93" font-size="6.0" text-anchor="end">0.9926</text>
<text stroke="#111" stroke-width="0.22" fill="#111" x="252.10" y="484.93" font-size="6.0" text-anchor="end">0.9928</text>
<text stroke="#111" stroke-width="0.22" fill="#111" x="252.10" y="459.93" font-size="6.0" text-anchor="end">0.9930</text>
<text stroke="#111" stroke-width="0.22" fill="#111" x="252.10" y="434.93" font-size="6.0" text-anchor="end">0.9932</text>
<text stroke="#111" stroke-width="0.22" fill="#111" x="252.10" y="409.93" font-size="6.0" text-anchor="end">0.9934</text>
<text stroke="#111" stroke-width="0.22" fill="#111" x="262.70" y="530.73" font-size="6.0" text-anchor="middle">1.0</text>
<text stroke="#111" stroke-width="0.22" fill="#111" x="283.45" y="530.73" font-size="6.0" text-anchor="middle">1.5</text>
<text stroke="#111" stroke-width="0.22" fill="#111" x="304.20" y="530.73" font-size="6.0" text-anchor="middle">2.0</text>
<text stroke="#111" stroke-width="0.22" fill="#111" x="324.95" y="530.73" font-size="6.0" text-anchor="middle">2.5</text>
<text stroke="#111" stroke-width="0.22" fill="#111" x="345.70" y="530.73" font-size="6.0" text-anchor="middle">3.0</text>
<text stroke="#111" stroke-width="0.22" fill="#111" x="366.45" y="530.73" font-size="6.0" text-anchor="middle">3.5</text>
<text stroke="#111" stroke-width="0.22" fill="#111" x="387.20" y="530.73" font-size="6.0" text-anchor="middle">4.0</text>
<text stroke="#111" stroke-width="0.22" fill="#111" x="407.95" y="530.73" font-size="6.0" text-anchor="middle">4.5</text>
<text stroke="#111" stroke-width="0.22" fill="#111" x="428.70" y="530.73" font-size="6.0" text-anchor="middle">5.0</text>
<text stroke="#111" fill="#111" x="345.55" y="397.10" font-size="8.3" stroke-width="0.35" text-anchor="middle">TWF</text>
<text stroke="#111" fill="#111" x="350.10" y="540.80" font-size="8.3" stroke-width="0.35" text-anchor="middle">Number of features selected</text>
<text stroke="#111" fill="#111" transform="translate(232.90,457.90) rotate(-90)" font-size="8.3" stroke-width="0.35" text-anchor="middle">Accuracy score</text>
</g>
</svg></body></html>
